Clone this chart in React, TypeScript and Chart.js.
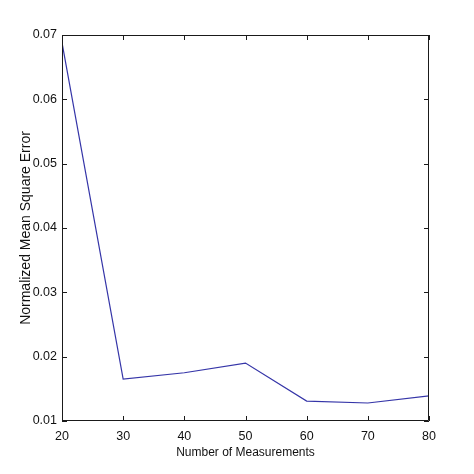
import React, { useEffect, useRef } from "react";
import { Chart, registerables } from "chart.js";

Chart.register(...registerables);

const measurements = [20, 30, 40, 50, 60, 70, 80];
const nmse = [0.0688, 0.0165, 0.0175, 0.019, 0.0131, 0.0128, 0.0139];
const xTicks = [20, 30, 40, 50, 60, 70, 80];
const yTicks = [0.01, 0.02, 0.03, 0.04, 0.05, 0.06, 0.07];
const xTitle = "Number of Measurements";
const yTitle = "Normalized Mean Square Error";

const FONT = "'Liberation Sans', Arial, sans-serif";

const framePlugin = {
  id: "frameTicks",
  afterDatasetsDraw(chart: any) {
    const { ctx, chartArea, scales } = chart;
    const { left, right, top, bottom } = chartArea;
    const xs = scales.x;
    const ys = scales.y;
    const len = 5;
    ctx.save();
    ctx.strokeStyle = "#1a1a1a";
    ctx.lineWidth = 1;
    ctx.beginPath();
    ctx.rect(left + 0.5, top + 0.5, right - left - 1, bottom - top - 1);
    ctx.stroke();
    ctx.beginPath();
    xTicks.forEach((v) => {
      const px = Math.round(xs.getPixelForValue(v)) + 0.5;
      ctx.moveTo(px, bottom);
      ctx.lineTo(px, bottom - len);
      ctx.moveTo(px, top);
      ctx.lineTo(px, top + len);
    });
    yTicks.forEach((v) => {
      const py = Math.round(ys.getPixelForValue(v)) + 0.5;
      ctx.moveTo(left, py);
      ctx.lineTo(left + len, py);
      ctx.moveTo(right, py);
      ctx.lineTo(right - len, py);
    });
    ctx.stroke();
    ctx.restore();
  },
};

export default function App() {
  const ref = useRef<HTMLCanvasElement>(null);
  useEffect(() => {
    if (!ref.current) return;
    const chart = new Chart(ref.current, {
      type: "line",
      data: {
        datasets: [
          {
            data: measurements.map((x, i) => ({ x, y: nmse[i] })),
            borderColor: "#3535a8",
            borderWidth: 1.2,
            pointRadius: 0,
            tension: 0,
            fill: false,
          },
        ],
      },
      options: {
        animation: false,
        responsive: true,
        maintainAspectRatio: false,
        layout: { padding: { top: 35, right: 45, left: 0, bottom: 0 } },
        plugins: { legend: { display: false }, tooltip: { enabled: false } },
        scales: {
          x: {
            type: "linear",
            min: 20,
            max: 80,
            afterBuildTicks: (s: any) => {
              s.ticks = xTicks.map((v) => ({ value: v }));
            },
            afterFit: (s: any) => {
              s.height = 53;
            },
            grid: { display: false, drawTicks: false, tickLength: 0 },
            border: { display: false },
            ticks: {
              padding: 8,
              color: "#111",
              maxRotation: 0,
              font: { family: FONT, size: 12.5 },
              callback: (v: any) => String(v),
            },
            title: {
              display: true,
              text: xTitle,
              color: "#111",
              padding: { top: 14, bottom: 14 },
              font: { family: FONT, size: 12 },
            },
          },
          y: {
            type: "linear",
            min: 0.01,
            max: 0.07,
            afterBuildTicks: (s: any) => {
              s.ticks = yTicks.map((v) => ({ value: v }));
            },
            afterFit: (s: any) => {
              s.width = 62;
            },
            grid: { display: false, drawTicks: false, tickLength: 0 },
            border: { display: false },
            ticks: {
              padding: 5,
              color: "#111",
              font: { family: FONT, size: 12.5 },
              callback: (v: any) => Number(v).toFixed(2),
            },
            title: {
              display: true,
              text: yTitle,
              color: "#111",
              padding: { top: 18, bottom: 0 },
              font: { family: FONT, size: 14 },
            },
          },
        },
      },
      plugins: [framePlugin],
    });
    return () => chart.destroy();
  }, []);
  return (
    <div style={{ position: "absolute", left: 0, top: 0, width: 474, height: 474, background: "#fff" }}>
      <canvas ref={ref} />
    </div>
  );
}
